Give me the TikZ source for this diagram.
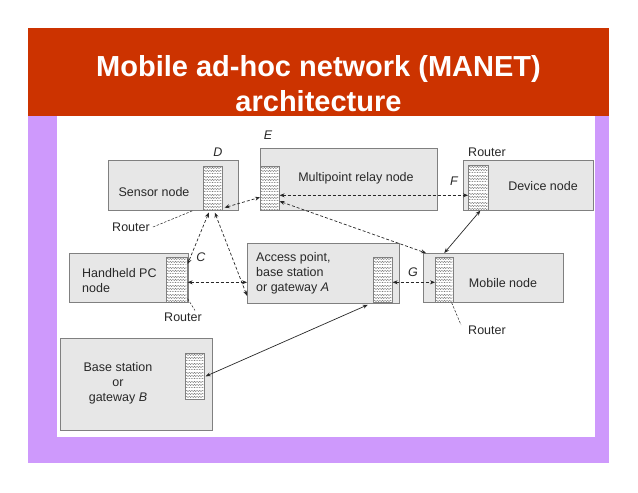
\documentclass[tikz,border=0pt]{standalone}
\usepackage{fontspec}
\setmainfont{Liberation Sans}
\usetikzlibrary{arrows.meta,decorations.pathmorphing,calc}
\definecolor{slidered}{RGB}{204,51,0}
\definecolor{slidepurple}{RGB}{206,153,252}
\definecolor{boxfill}{RGB}{231,231,231}
\definecolor{boxline}{RGB}{128,128,128}
\definecolor{inkgray}{RGB}{40,40,40}
\definecolor{wavegray}{RGB}{125,125,125}
\tikzset{
  nodebox/.style={draw=boxline, fill=boxfill, line width=0.8pt, inner sep=0pt, anchor=north west},
  stripebox/.style={draw=boxline, fill=white, line width=0.6pt, inner sep=0pt, anchor=north west,
    path picture={
      \foreach \k in {0,...,14}
        \draw[wavegray, line width=0.4pt, decorate, decoration={snake, segment length=2.6pt, amplitude=0.7pt}]
          ([xshift=0.6pt, yshift=-1.6pt-\k*3pt]path picture bounding box.north west) --
          ([xshift=-0.6pt, yshift=-1.6pt-\k*3pt]path picture bounding box.north east);
      \foreach \k in {1,...,4}
        \draw[white, line width=1.8pt]
          ([yshift=-\k*9pt]path picture bounding box.north west) --
          ([yshift=-\k*9pt]path picture bounding box.north east);
    }},
  lab/.style={font=\fontsize{12.5}{15}\selectfont, text=inkgray, inner sep=0pt},
  letter/.style={font=\fontsize{12.5}{15}\selectfont\itshape, text=inkgray, inner sep=0pt},
  titletext/.style={font=\fontsize{29}{34}\selectfont\bfseries, text=white, inner sep=0pt, anchor=base},
  tipk/.tip={Stealth[length=5pt,width=4pt]},
  dlink/.style={draw=inkgray, line width=0.7pt, dash pattern=on 3pt off 2pt, tipk-tipk},
  slink/.style={draw=inkgray, line width=0.7pt, tipk-tipk},
  leader/.style={draw=inkgray, line width=0.5pt, dash pattern=on 2.5pt off 1.5pt},
}
\begin{document}
\begin{tikzpicture}[x=1pt,y=-1pt]
\path[use as bounding box, fill=white] (0,0) rectangle (638,493);
% slide background
\fill[slidepurple] (28,116) rectangle (609,463);
\fill[white] (57,112) rectangle (595,437);
\fill[slidered] (28,28) rectangle (609,116);
\node[titletext] (title1) at (318.5,76) {Mobile ad-hoc network (MANET)};
\node[titletext] (title2) at (318.5,111) {architecture};

% boxes
\node[nodebox, minimum width=130pt, minimum height=50pt] (sen) at (108,160) {};
\node[nodebox, minimum width=177pt, minimum height=62pt] (mpr) at (260,148) {};
\node[nodebox, minimum width=130pt, minimum height=50pt] (dev) at (463,160) {};
\node[nodebox, minimum width=119pt, minimum height=49pt] (hand) at (69,253) {};
\node[nodebox, minimum width=152pt, minimum height=60pt] (acc) at (247,243) {};
\node[nodebox, minimum width=140pt, minimum height=49pt] (mob) at (423,253) {};
\node[nodebox, minimum width=152pt, minimum height=92pt] (bas) at (60,338) {};

% router stripes
\node[stripebox, minimum width=19pt, minimum height=44pt] (dS) at (203,166) {};
\node[stripebox, minimum width=19pt, minimum height=44pt] (eS) at (260,166) {};
\node[stripebox, minimum width=20pt, minimum height=45pt] (fS) at (468,165) {};
\node[stripebox, minimum width=21pt, minimum height=45pt] (hS) at (166,257) {};
\node[stripebox, minimum width=19pt, minimum height=45pt] (aS) at (373,257) {};
\node[stripebox, minimum width=18pt, minimum height=45pt] (mS) at (435,257) {};
\node[stripebox, minimum width=19pt, minimum height=46pt] (bS) at (185,353) {};

% box texts
\node[lab] (tsen) at (154,192) {Sensor node};
\node[lab] (tmpr) at (356,178) {Multipoint relay node};
\node[lab] (tdev) at (543,186) {Device node};
\node[lab, align=left, anchor=west] (thand) at (82,280.5) {Handheld PC\\node};
\node[lab, align=left, anchor=west] (tacc) at (256,273.5) {Access point,\\base station\\or gateway \textit{A}};
\node[lab] (tmob) at (503,283) {Mobile node};
\node[lab, align=center] (tbas) at (118,383.5) {Base station\\or\\gateway \textit{B}};

% letters
\node[letter] (lD) at (218,152) {D};
\node[letter] (lE) at (268,135) {E};
\node[letter] (lF) at (454,181) {F};
\node[letter] (lG) at (413,272) {G};
\node[letter] (lC) at (201,257) {C};

% router labels
\node[lab] (r1) at (131,227) {Router};
\node[lab] (r2) at (183,317) {Router};
\node[lab] (r3) at (487,152) {Router};
\node[lab] (r4) at (487,330) {Router};

% connectors
\draw[dlink] ([xshift=2pt,yshift=3pt]dS.south east) -- ([yshift=-9pt]eS.west);
\draw[dlink] ([yshift=-7pt]eS.east) -- ([yshift=-7pt]eS.east -| fS.west);
\draw[dlink] ([yshift=-13pt]eS.east) -- ([xshift=3pt]mob.north west);
\draw[slink] ([xshift=2pt]fS.south) -- (mS.north |- mob.north);
\draw[dlink] ([xshift=-4pt,yshift=-2pt]dS.south) -- ([yshift=-7pt]hS.north east);
\draw[dlink] ([xshift=2pt,yshift=-2pt]dS.south) -- ([yshift=8pt]acc.south west);
\draw[dlink] ([yshift=-2.5pt]hS.east) -- ([yshift=-2.5pt]hS.east -| acc.west);
\draw[dlink] ([yshift=-2.5pt]aS.east) -- ([yshift=-2.5pt]aS.east -| mS.west);
\draw[slink] ([xshift=-32pt,yshift=-1pt]acc.south east) -- ([xshift=1pt]bS.east);

% router leaders
\draw[leader] ([xshift=3pt]r1.east) -- ([xshift=-10pt]dS.south west);
\draw[leader] ([yshift=4pt]hS.south east) -- ([xshift=12pt,yshift=2pt]r2.north);
\draw[leader] ([xshift=-2pt]mS.south east) -- ([xshift=-7pt,yshift=5pt]r4.west);
\end{tikzpicture}
\end{document}
